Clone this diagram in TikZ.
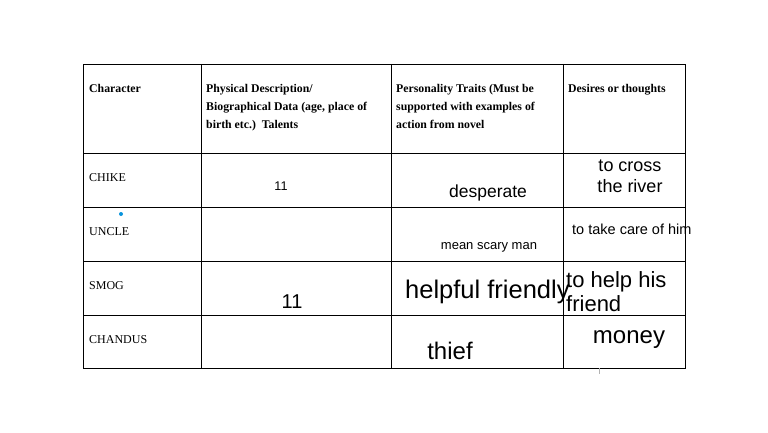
\documentclass[tikz,border=0pt]{standalone}
\usepackage{fontspec}
\setmainfont{Liberation Serif}
\newfontfamily\hand{Liberation Sans}
\begin{document}
\begin{tikzpicture}[x=1pt,y=-1pt,
  hdr/.style={font=\bfseries\fontsize{11.8}{18}\selectfont, anchor=north west, inner sep=0pt, align=left},
  lbl/.style={font=\fontsize{12}{14}\selectfont, anchor=west, inner sep=0pt},
  hw/.style={font=\hand, inner sep=0pt}]
\useasboundingbox (0,0) rectangle (768,433);
\draw[line width=0.8pt] (83,64) rectangle (685,368);
\foreach \x in {201,391,563} \draw[line width=0.8pt] (\x,64) -- (\x,368);
\foreach \y in {153,207,261,315} \draw[line width=0.8pt] (83,\y) -- (685,\y);
\node[hdr] (h1) at (89,84) {Character};
\node[hdr] (h2) at (206,84) {Physical Description/\\Biographical Data (age, place of\\birth etc.)\ \ Talents};
\node[hdr] (h3) at (396,84) {Personality Traits (Must be\\supported with examples of\\action from novel};
\node[hdr] (h4) at (568,84) {Desires or thoughts};
\node[lbl] (r1) at (89,178) {CHIKE};
\node[lbl] (r2) at (89,232) {UNCLE};
\node[lbl] (r3) at (89,286) {SMOG};
\node[lbl] (r4) at (89,340) {CHANDUS};
\fill[cyan!80!blue] (121,214) circle (2);
\node[hw,font=\hand\fontsize{12.6}{14}\selectfont] (a1) at (281,186) {11};
\node[hw,font=\hand\fontsize{17.5}{20}\selectfont] (a2) at (488,193) {desperate};
\node[hw,font=\hand\fontsize{18}{21}\selectfont,align=center] (a3) at (630,176) {to cross\\the river};
\node[hw,font=\hand\fontsize{14.5}{16}\selectfont,anchor=west] (a4) at (572,229) {to take care of him};
\node[hw,font=\hand\fontsize{13}{15}\selectfont] (a5) at (489,247) {mean scary man};
\node[hw,font=\hand\fontsize{20}{22}\selectfont] (a6) at (292,302) {11};
\node[hw,font=\hand\fontsize{25.5}{28}\selectfont,anchor=west] (a7) at (405,292) {helpful friendly};
\node[hw,font=\hand\fontsize{22}{24}\selectfont,anchor=west,align=left] (a8) at (566,292) {to help his\\friend};
\node[hw,font=\hand\fontsize{24}{26}\selectfont] (a9) at (450,351) {thief};
\node[hw,font=\hand\fontsize{24}{26}\selectfont] (a10) at (629,340) {money};
\draw[gray!60] (599,368) -- (599,374);
\end{tikzpicture}
\end{document}
